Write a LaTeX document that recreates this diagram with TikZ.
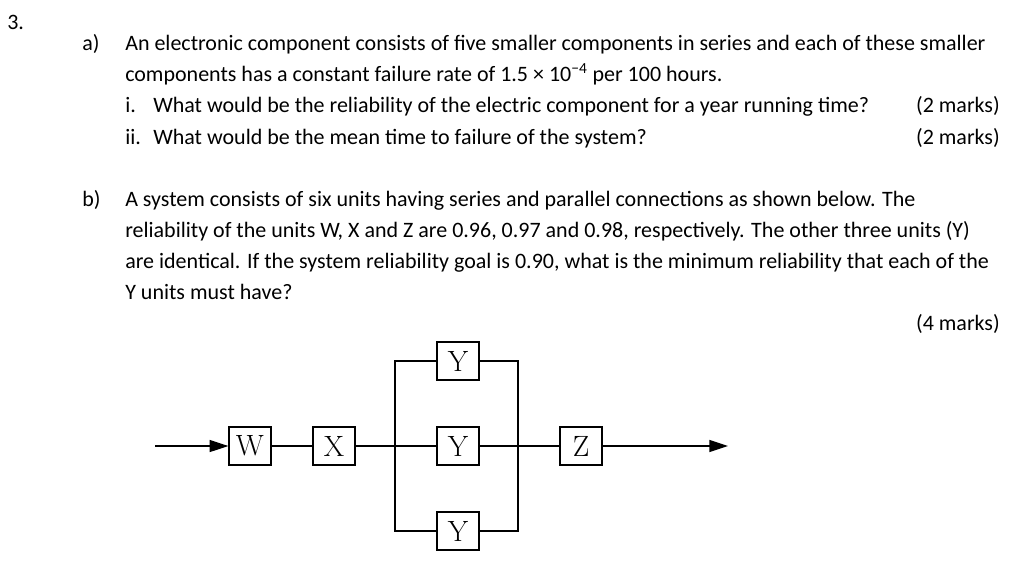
\documentclass[tikz,border=0pt]{standalone}
\usepackage{fontspec}
\setmainfont{Carlito}
\newfontfamily\lmr{Latin Modern Roman}
\usetikzlibrary{arrows.meta}
\begin{document}
\begin{tikzpicture}[x=0.75pt,y=-0.75pt,
  txt/.style={anchor=base west,inner sep=0,font=\fontsize{16.5}{19}\selectfont},
  unit/.style={draw,line width=1pt,minimum width=31.5pt,minimum height=28.5pt,inner sep=0,font=\lmr\fontsize{22}{22}\selectfont},
  wire/.style={line width=1pt}]
\useasboundingbox (0,0) rectangle (1024,567);
\node[txt] (n3) at (7,30) {3.};
\node[txt] (a) at (82,51) {a)};
\node[txt] (a1) at (125,51) {An electronic component consists of five smaller components in series and each of these smaller};
\node[txt] (a2) at (125,82) {components has a constant failure rate of 1.5 × 10\textsuperscript{−4} per 100 hours.};
\node[txt] (ai) at (125,113) {i.};
\node[txt] (ait) at (153,113) {What would be the reliability of the electric component for a year running time?};
\node[txt] (aii) at (125,144) {ii.};
\node[txt] (aiit) at (153,144) {What would be the mean time to failure of the system?};
\node[txt,anchor=base east] (m1) at (1000,113) {(2 marks)};
\node[txt,anchor=base east] (m2) at (1000,144) {(2 marks)};
\node[txt] (b) at (82,206) {b)};
\node[txt] (b1) at (125,206) {A system consists of six units having series and parallel connections as shown below. The};
\node[txt] (b2) at (125,237) {reliability of the units W, X and Z are 0.96, 0.97 and 0.98, respectively. The other three units (Y)};
\node[txt] (b3) at (125,268) {are identical. If the system reliability goal is 0.90, what is the minimum reliability that each of the};
\node[txt] (b4) at (125,299) {Y units must have?};
\node[txt,anchor=base east] (m3) at (1000,330) {(4 marks)};
% diagram
\node[unit] (W) at (250,446) {W};
\node[unit] (X) at (334,446) {X};
\node[unit] (Y1) at (458,361) {Y};
\node[unit] (Y2) at (458,446) {Y};
\node[unit] (Y3) at (458,531) {Y};
\node[unit] (Z) at (581,446) {Z};
\coordinate (s) at (155,446);
\coordinate (e) at (728,446);
\coordinate (jl) at (395,446);
\coordinate (jr) at (518,446);
\draw[wire,-{Triangle[length=14pt,width=9pt]}] (s) -- (W.west);
\draw[wire] (W) -- (X);
\draw[wire] (X) -- (jl) -- (Y2.west);
\draw[wire] (Y2.east) -- (jr) -- (Z.west);
\draw[wire,-{Triangle[length=14pt,width=9pt]}] (Z.east) -- (e);
\draw[wire] (Y1.west) -| (jl) |- (Y3.west);
\draw[wire] (Y1.east) -| (jr) |- (Y3.east);
\end{tikzpicture}
\end{document}
